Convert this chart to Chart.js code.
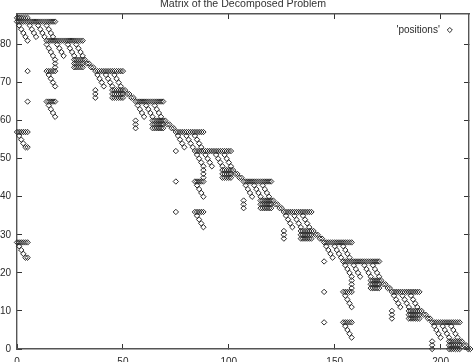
<!DOCTYPE html>
<html><head><meta charset="utf-8">
<style>html,body{margin:0;padding:0;background:#fff;overflow:hidden}canvas{display:block;filter:blur(0.35px)}</style>
<script src="https://cdn.jsdelivr.net/npm/chart.js@4"></script>
</head><body><canvas id="c" width="474" height="362"></canvas>
<script>
const chartTitle = "Matrix of the Decomposed Problem";
const seriesName = "'positions'";
const xTicks = [0, 50, 100, 150, 200];
const yTicks = [0, 10, 20, 30, 40, 50, 60, 70, 80];
const xMax = 213.4;
const yMax = 88;
const rowValues = [87,86,85,84,83,82,81,80,79,78,77,76,75,74,73,72,71,70,69,68,67,66,65,64,63,62,61,60,59,58,57,56,55,54,53,52,51,50,49,48,47,46,45,44,43,42,41,40,39,38,37,36,35,34,33,32,31,30,29,28,27,26,25,24,23,22,21,20,19,18,17,16,15,14,13,12,11,10,9,8,7,6,5,4,3,2,1,0];
// columns occupied in each row, as written runs ("a-b" = every column from a to b)
const rowColumns = [
"0-5","0-18","1 6 10 14","2 7 11 15","3 8 12 16","4 9 13 17","5 14-31","14 19 24 28","15 20 25 29","16 21 26 30","17 22 27 31",
"18 27-32","18 27-31 33 34","18 27-31 35 36","5 14-18 37-50","15 38 42 46","16 39 43 47","17 40 44 48","18 41 45 49",
"37 45-51","37 45-50 52 53","37 45-50 54 55","5 14-18 56-69","15 57 61 65","16 58 62 66","17 59 63 67","18 60 64 68",
"56 64-70","56 64-69 71 72","56 64-69 73 74","0-5 75-88","1 76 80 84","2 77 81 85","3 78 82 86","4 5 79 83 87",
"75 84-101","85 89 94 98","86 90 95 99","87 91 96 100","88 92 97 101","88 97-102","88 97-101 103 104","88 97-101 105 106",
"75 84-88 107-120","85 108 112 116","86 109 113 117","87 110 114 118","88 111 115 119","107 115-121","107 115-120 122 123","107 115-120 124 125",
"75 84-88 126-139","85 127 131 135","86 128 132 136","87 129 133 137","88 130 134 138","126 134-140","126 134-139 141 142","126 134-139 143 144",
"0-5 145-158","1 146 150 154","2 147 151 155","3 148 152 156","4 5 149 153 157","145 154-171","155 159 164 168","156 160 165 169","157 161 166 170","158 162 167 171",
"158 167-172","158 167-171 173 174","158 167-171 175 176","145 154-158 177-190","155 178 182 186","156 179 183 187","157 180 184 188","158 181 185 189",
"177 185-191","177 185-190 192 193","177 185-190 194 195","145 154-158 196-209","155 197 201 205","156 198 202 206","157 199 203 207","158 200 204 208",
"196 204-210","196 204-209 211 212","196 204-209 213 214"];

const points = [];
rowValues.forEach((y, i) => {
  rowColumns[i].split(" ").forEach(run => {
    const [a, b] = run.split("-").map(Number);
    for (let x = a; x <= (b === undefined ? a : b); x++) points.push({x, y});
  });
});

const ink = "#2a2a2a";
const font = {family: "'Liberation Sans', Arial, sans-serif", size: 10};
const clearPad = s => { s.paddingTop = s.paddingBottom = s.paddingLeft = s.paddingRight = 0; };
const fixedWidth = w => s => { s.width = w; clearPad(s); };
const fixedHeight = h => s => { s.height = h; clearPad(s); };
const placeLegend = {
  id: "placeLegend",
  beforeDraw(chart) {
    const l = chart.legend;
    const w = l.width;
    l.left = 386.5; l.right = l.left + w; l.top = 25; l.bottom = l.top + l.height;
  }
};
new Chart(document.getElementById("c"), {
  type: "scatter",
  plugins: [placeLegend],
  data: {datasets: [{label: seriesName, data: points, showLine: false, pointStyle: "rectRot",
    pointRadius: 2.7, pointBorderWidth: 1, borderWidth: 1, borderColor: ink, backgroundColor: "rgba(255,255,255,0)",
    pointBackgroundColor: "rgba(255,255,255,0)", clip: false}]},
  options: {
    responsive: false, animation: false,
    layout: {padding: 0},
    plugins: {
      title: {display: true, fullSize: false, text: chartTitle, color: "#333", font: {...font, size: 10.6, weight: "normal"}, padding: {top: -2.5, bottom: 3.8}},
      legend: {position: "chartArea", align: "start", rtl: true, textDirection: "ltr",
        labels: {usePointStyle: true, color: ink, font, boxWidth: 10, boxHeight: 3.6, padding: 0}},
      tooltip: {enabled: false}
    },
    scales: {
      x: {type: "linear", min: 0, max: xMax, afterBuildTicks: s => { s.ticks = xTicks.map(value => ({value})); }, afterFit: fixedHeight(13),
        grid: {drawOnChartArea: false, tickLength: -5, color: "#333"}, border: {color: "#555", width: 1.4},
        ticks: {color: ink, font, padding: 12, maxRotation: 0, autoSkip: false}},
      y: {type: "linear", min: 0, max: yMax, afterBuildTicks: s => { s.ticks = yTicks.map(value => ({value})); }, afterFit: fixedWidth(17),
        grid: {drawOnChartArea: false, tickLength: -5, color: "#333"}, border: {color: "#555", width: 1.4},
        ticks: {color: ink, font, padding: 11, autoSkip: false}},
      x2: {type: "linear", position: "top", min: 0, max: xMax, afterBuildTicks: s => { s.ticks = xTicks.map(value => ({value})); }, afterFit: fixedHeight(0),
        grid: {drawOnChartArea: false, tickLength: -5, color: "#333"}, border: {color: "#555", width: 1.4}, ticks: {display: false}},
      y2: {type: "linear", position: "right", min: 0, max: yMax, afterBuildTicks: s => { s.ticks = yTicks.map(value => ({value})); }, afterFit: fixedWidth(0),
        grid: {drawOnChartArea: false, tickLength: -5, color: "#333"}, border: {color: "#555", width: 1.4}, ticks: {display: false}}
    }
  }
});
</script></body></html>
